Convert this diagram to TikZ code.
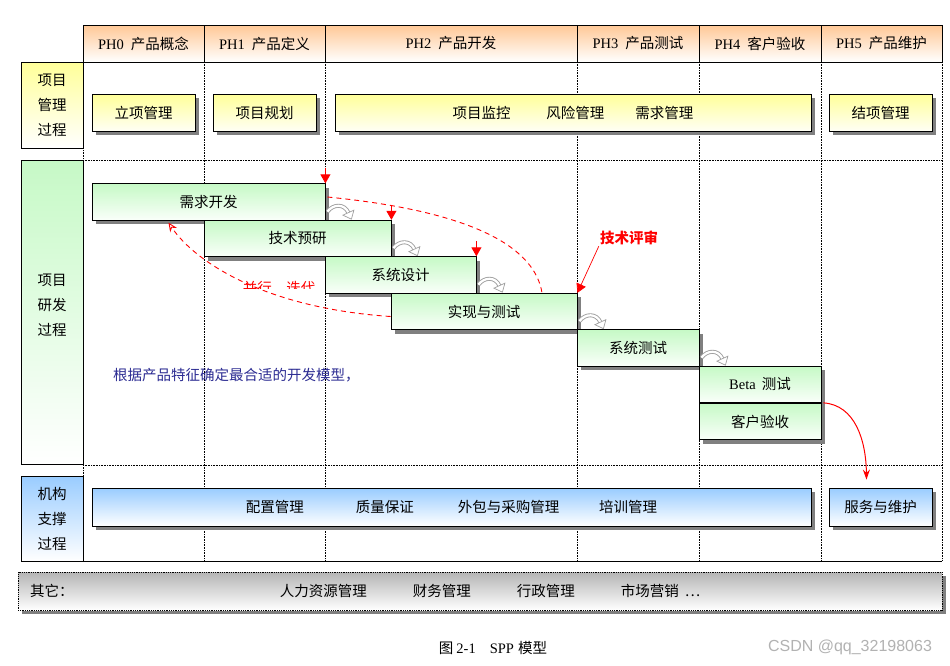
\documentclass[tikz,border=0pt]{standalone}
\usepackage{fontspec}
\setmainfont{Noto Sans CJK SC}
\newfontfamily\tms{Liberation Serif}
\newfontfamily\arl{Liberation Sans}
\usetikzlibrary{positioning,calc,shadows,arrows.meta}

\definecolor{hdrorange}{HTML}{FFC896}
\definecolor{mgtyellow}{HTML}{FFFF99}
\definecolor{devgreen}{HTML}{C6F9C6}
\definecolor{supblue}{HTML}{99CCFF}
\definecolor{othergray}{HTML}{B4B4B4}
\definecolor{shadowgray}{HTML}{808080}
\definecolor{noteblue}{HTML}{2B2B92}

\tikzset{
  % small hollow arrow that links one step to the next
  turnarrow/.pic={
    \draw[line width=4pt, gray!75] (0,0) .. controls (6,-8) and (17,-8) .. (21,1);
    \draw[line width=2.2pt, white] (0,0) .. controls (6,-8) and (17,-8) .. (21,1);
    \filldraw[draw=gray!75, line width=0.7pt, fill=white] (26.5,-1.5) -- (15.5,3.5) -- (24,7.5) -- cycle;
  }
}

\begin{document}
\begin{tikzpicture}[x=1pt, y=-1pt, font=\fontsize{14.5}{17}\selectfont,
  phase/.style={draw, line width=0.8pt, outer sep=0pt, inner sep=0pt,
    minimum height=37, top color=hdrorange, bottom color=white},
  lane/.style={draw, line width=0.8pt, inner sep=0pt, minimum width=62,
    align=center, font=\fontsize{14.5}{25}\selectfont},
  task/.style={draw, line width=0.8pt, inner sep=0pt,
    drop shadow={shadow xshift=4pt, shadow yshift=-4pt, fill=shadowgray, opacity=1}},
  mgtbox/.style={task, minimum height=37, top color=mgtyellow, bottom color=yellow!4},
  devbox/.style={task, minimum height=36.5, top color=devgreen, bottom color=green!2},
  supbox/.style={task, minimum height=38, top color=supblue, bottom color=white},
  grid/.style={densely dotted, line width=0.6pt},
  revdash/.style={red, line width=0.9pt, dash pattern=on 5pt off 4pt},
  revmark/.style={red, line width=0.9pt, -{Triangle[length=9pt, width=10pt]}}]

  \fill[white] (0,0) rectangle (950,665);
  \useasboundingbox (0,0) rectangle (950,665);

  % Phase header, one cell after the other
  \node[phase, minimum width=121] (ph0) at (143.5,43.5) {{\tms PH0}\hspace{7pt}产品概念};
  \node[phase, minimum width=121, right=0pt of ph0] (ph1) {{\tms PH1}\hspace{7pt}产品定义};
  \node[phase, minimum width=252, right=0pt of ph1] (ph2) {{\tms PH2}\hspace{7pt}产品开发};
  \node[phase, minimum width=122, right=0pt of ph2] (ph3) {{\tms PH3}\hspace{7pt}产品测试};
  \node[phase, minimum width=122, right=0pt of ph3] (ph4) {{\tms PH4}\hspace{7pt}客户验收};
  \node[phase, minimum width=121, right=0pt of ph4] (ph5) {{\tms PH5}\hspace{7pt}产品维护};

  % Dotted grid of the table
  \foreach \p in {ph0,ph1,ph2,ph3,ph4,ph5}
    \draw[grid] (\p.south west) -- ++(0,499);
  \draw[grid] (ph5.south east) -- ++(0,499);
  \foreach \y in {160,465}
    \draw[grid] (83,\y) -- (942,\y);

  % Lanes on the left
  \node[lane, minimum height=86, top color=mgtyellow, bottom color=white] (mgt) at (52,105) {项目\\管理\\过程};
  \node[lane, minimum height=304, top color=devgreen, bottom color=white] (dev) at (52,312) {项目\\研发\\过程\\[-11pt]};
  \node[lane, minimum height=85, top color=supblue, bottom color=white] (sup) at (52,518.5) {机构\\支撑\\过程};
  \draw[line width=0.8pt] (sup.south east) -- (ph5.south east |- sup.south);

  % Project management lane
  \node[mgtbox, minimum width=103] (lxgl) at (143.5,112.5) {立项管理};
  \node[mgtbox, minimum width=103] (xmgh) at (264.5,112.5) {项目规划};
  \node[mgtbox, minimum width=476] (xmjk) at (573,112.5) {项目监控\hspace{36pt}风险管理\hspace{31pt}需求管理};
  \node[mgtbox, minimum width=103] (jxgl) at (880.5,112.5) {结项管理};

  % Development lane, a cascade of steps
  \node[devbox, minimum width=233] (xqkf) at (208.5,202) {需求开发};
  \node[devbox, minimum width=187] (jsyy) at (297.5,238.5) {技术预研};
  \node[devbox, minimum width=151] (xtsj) at (400.5,275) {系统设计};
  \node[devbox, minimum width=186] (sxcs) at (484,311.5) {实现与测试};
  \node[devbox, minimum width=122] (xtcs) at (638,348) {系统测试};
  \node[devbox, minimum width=122] (beta) at (760,384.5) {{\tms Beta}\hspace{6pt}测试};
  \node[devbox, minimum width=122] (khys) at (760,421.5) {客户验收};

  \foreach \b in {xqkf,jsyy,xtsj,sxcs,xtcs}
    \pic at ($(\b.south east)+(2,-9)$) {turnarrow};
  \foreach \b in {xqkf,jsyy,xtsj}
    \draw[revmark] ($(\b.north east)+(0,-15)$) -- (\b.north east);

  % Review mark
  \node[text=red, font=\fontsize{14.5}{17}\selectfont\bfseries, inner sep=1pt] (jsps) at (629,238) {技术评审};
  \draw[red, line width=0.7pt, -{Triangle[length=9pt, width=10pt]}] (jsps.south west) -- (sxcs.north east);

  % Iteration loops
  \begin{scope}
    \clip (230,270) rectangle (330,288.5);
    \node[text=red, inner sep=0pt] (bxdd) at (279,288) {并行、迭代};
  \end{scope}
  \draw[revdash] ($(xqkf.east)+(2,-5)$) .. controls (480,212) and (535,250) .. ($(sxcs.north)+(58,0)$);
  \draw[revdash, -{Stealth[open, length=9pt, width=8pt]}] ($(sxcs.west)+(0,5)$)
    .. controls (265,308) and (195,262) .. ($(xqkf.south)+(-40,2)$);

  \node[anchor=west, text=noteblue, inner sep=0pt] (note) at (113,375) {根据产品特征确定最合适的开发模型，};

  % Support lane
  \node[supbox, minimum width=719] (pzgl) at (451.5,507) {配置管理\hspace{52pt}质量保证\hspace{44pt}外包与采购管理\hspace{40pt}培训管理};
  \node[supbox, minimum width=103] (fwwh) at (880.5,507) {服务与维护};
  \draw[red, line width=1pt, -{Stealth[length=10pt, width=7pt]}] ($(khys.north east)+(2,0)$)
    .. controls (855,405) and (866,440) .. ($(fwwh.north)+(-14,-8)$);

  % Other processes
  \node[task, densely dotted, minimum width=924, minimum height=38, top color=othergray, bottom color=white] (qt) at (480,591) {};
  \node[anchor=west, inner sep=0pt] (qtlabel) at (30,591) {其它：};
  \node[inner sep=0pt] (qtitems) at (490,591) {人力资源管理\hspace{46pt}财务管理\hspace{46pt}行政管理\hspace{46pt}市场营销\hspace{6pt}…};

  % Caption and mark
  \node (caption) at (493,648) {图\hspace{3pt}{\tms 2-1}\hspace{14pt}{\tms SPP}\hspace{4pt}模型};
  \node[text=gray!60, font=\arl\fontsize{16}{18}\selectfont] (mark) at (850,647) {CSDN @qq\_32198063};
\end{tikzpicture}
\end{document}
